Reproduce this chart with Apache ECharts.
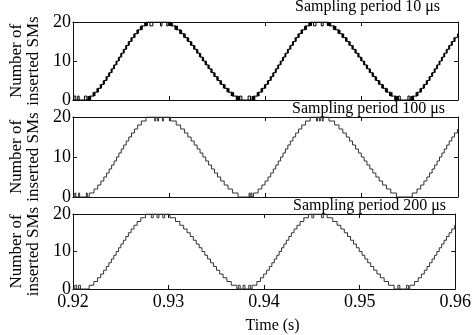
<!DOCTYPE html>
<html>
<head>
<meta charset="utf-8">
<script src="https://cdn.jsdelivr.net/npm/echarts@6/dist/echarts.min.js"></script>
<style>html,body{margin:0;padding:0;background:#fff}#c{width:474px;height:335px}</style>
</head>
<body>
<div id="c"></div>
<script>
// ---- data ----
const xTicks = [0.92, 0.93, 0.94, 0.95, 0.96];
const yTicks = [0, 10, 20];
const panelTitles = ['Sampling period 10 μs', 'Sampling period 100 μs', 'Sampling period 200 μs'];
const xName = 'Time (s)';
const yName = 'Number of\ninserted SMs';

// staircase: time (s) at which the number of inserted SMs changes, and the new value
const stepTimes = [
  0.920000, 0.921702, 0.922192, 0.922577, 0.922910, 0.923213, 0.923495, 0.923764, 0.924023, 0.924277, 0.924526,
  0.924774, 0.925023, 0.925277, 0.925536, 0.925805, 0.926087, 0.926390, 0.926723, 0.927108, 0.927598,
  0.930150, 0.930732, 0.931189, 0.931585, 0.931944, 0.932279, 0.932598, 0.932906, 0.933207, 0.933503,
  0.933797, 0.934093, 0.934394, 0.934702, 0.935021, 0.935356, 0.935715, 0.936111, 0.936568, 0.937150,
  0.938752, 0.939242, 0.939627, 0.939960, 0.940263, 0.940545, 0.940814, 0.941073, 0.941327, 0.941576,
  0.941824, 0.942073, 0.942327, 0.942586, 0.942855, 0.943137, 0.943440, 0.943773, 0.944158, 0.944648,
  0.946600, 0.947182, 0.947639, 0.948035, 0.948394, 0.948729, 0.949048, 0.949356, 0.949657, 0.949953,
  0.950247, 0.950543, 0.950844, 0.951152, 0.951471, 0.951806, 0.952165, 0.952561, 0.953018, 0.953600,
  0.955252, 0.955742, 0.956127, 0.956460, 0.956763, 0.957045, 0.957314, 0.957573, 0.957827, 0.958076,
  0.958324, 0.958573, 0.958827, 0.959086, 0.959355, 0.959637, 0.959940, 0.960000
];
const stepLevels = [
  0, 1, 2, 3, 4, 5, 6, 7, 8, 9, 10,
  11, 12, 13, 14, 15, 16, 17, 18, 19, 20,
  19, 18, 17, 16, 15, 14, 13, 12, 11, 10,
  9, 8, 7, 6, 5, 4, 3, 2, 1, 0,
  1, 2, 3, 4, 5, 6, 7, 8, 9, 10,
  11, 12, 13, 14, 15, 16, 17, 18, 19, 20,
  19, 18, 17, 16, 15, 14, 13, 12, 11, 10,
  9, 8, 7, 6, 5, 4, 3, 2, 1, 0,
  1, 2, 3, 4, 5, 6, 7, 8, 9, 10,
  11, 12, 13, 14, 15, 16, 17, 17
];
// short switching pulses on the flat parts: [start (s), end (s), base level, pulse level]
const pulses10 = [
  [0.92010, 0.92030, 0, 1], [0.92050, 0.92065, 0, 1], [0.92120, 0.92145, 0, 1],
  [0.92800, 0.92830, 20, 19], [0.92910, 0.92925, 20, 19], [0.92975, 0.92990, 20, 19],
  [0.93730, 0.93755, 0, 1], [0.93820, 0.93845, 0, 1],
  [0.94500, 0.94525, 20, 19], [0.94580, 0.94600, 20, 19],
  [0.95380, 0.95400, 0, 1], [0.95480, 0.95500, 0, 1]
];
const pulses100 = [
  [0.92020, 0.92030, 0, 1], [0.92060, 0.92070, 0, 1], [0.92140, 0.92150, 0, 1],
  [0.92850, 0.92860, 20, 19], [0.92880, 0.92890, 20, 19], [0.92930, 0.92940, 20, 19],
  [0.93830, 0.93840, 0, 1], [0.93850, 0.93860, 0, 1],
  [0.94530, 0.94540, 20, 19], [0.94560, 0.94570, 20, 19], [0.94590, 0.94600, 20, 19]
];
const pulses200 = [
  [0.92020, 0.92040, 0, 1], [0.92060, 0.92080, 0, 1],
  [0.92820, 0.92840, 20, 19], [0.92880, 0.92900, 20, 19], [0.92940, 0.92960, 20, 19],
  [0.93730, 0.93750, 0, 1], [0.93780, 0.93800, 0, 1], [0.93840, 0.93860, 0, 1],
  [0.94500, 0.94520, 20, 19], [0.94600, 0.94620, 20, 19],
  [0.95400, 0.95420, 0, 1], [0.95490, 0.95510, 0, 1]
];

// ---- build ----
const FONT = '"Liberation Serif","Times New Roman",serif';
const stepData = stepTimes.map((t, i) => [t, stepLevels[i]]);
const pulseSets = [pulses10, pulses100, pulses200];

// dither blocks for the 10 us case at every level change
const blockData = [];
for (let i = 1; i < stepTimes.length; i++) {
  if (stepLevels[i] === stepLevels[i - 1]) continue;
  const gPrev = stepTimes[i] - stepTimes[i - 1];
  const gNext = i + 1 < stepTimes.length ? stepTimes[i + 1] - stepTimes[i] : gPrev;
  blockData.push([stepTimes[i], stepLevels[i - 1], stepLevels[i], Math.min(gPrev, gNext, 0.0006)]);
}

const grids = [
  {left: 61, right: 16, top: 22, height: 78},
  {left: 61, right: 16, top: 117, height: 80},
  {left: 61, right: 16, top: 214, height: 77}
];
const axisLineStyle = {color: '#111', width: 1};
const xAxes = [], yAxes = [], series = [];
grids.forEach((g, i) => {
  const last = i === grids.length - 1;
  xAxes.push({
    gridIndex: i, type: 'value', min: xTicks[0], max: xTicks[xTicks.length - 1], interval: 0.01,
    position: 'bottom',
    axisLine: {show: true, onZero: false, lineStyle: axisLineStyle},
    axisTick: {show: true, inside: true, length: 4, lineStyle: axisLineStyle},
    axisLabel: {show: last, color: '#000', fontFamily: FONT, fontSize: 18, margin: 4,
      hideOverlap: false, formatter: v => v.toFixed(2)},
    splitLine: {show: false},
    name: last ? xName : '', nameLocation: 'middle', nameGap: 29,
    nameTextStyle: {color: '#000', fontFamily: FONT, fontSize: 16, padding: [0, 0, 0, 17]}
  });
  xAxes.push({
    gridIndex: i, type: 'value', min: xTicks[0], max: xTicks[xTicks.length - 1], interval: 0.01,
    position: 'top',
    axisLine: {show: true, onZero: false, lineStyle: axisLineStyle},
    axisTick: {show: true, inside: true, length: 4, lineStyle: axisLineStyle},
    axisLabel: {show: false}, splitLine: {show: false}
  });
  yAxes.push({
    gridIndex: i, type: 'value', min: yTicks[0], max: yTicks[yTicks.length - 1], interval: 10,
    position: 'left',
    axisLine: {show: true, onZero: false, lineStyle: axisLineStyle},
    axisTick: {show: true, inside: true, length: 4, lineStyle: axisLineStyle},
    axisLabel: {color: '#000', fontFamily: FONT, fontSize: 18, margin: 2},
    splitLine: {show: false},
    name: yName, nameLocation: 'middle', nameRotate: 90, nameGap: 24,
    nameTextStyle: {color: '#000', fontFamily: FONT, fontSize: 17, lineHeight: 17}
  });
  yAxes.push({
    gridIndex: i, type: 'value', min: yTicks[0], max: yTicks[yTicks.length - 1], interval: 10,
    position: 'right',
    axisLine: {show: true, onZero: false, lineStyle: axisLineStyle},
    axisTick: {show: true, inside: true, length: 4, lineStyle: axisLineStyle},
    axisLabel: {show: false}, splitLine: {show: false}
  });
  series.push({
    type: 'line', xAxisIndex: 2 * i, yAxisIndex: 2 * i, step: 'end',
    data: stepData, showSymbol: false, silent: true, animation: false,
    lineStyle: {color: i === 0 ? '#000' : '#333', width: 1}
  });
  series.push({
    type: 'custom', xAxisIndex: 2 * i, yAxisIndex: 2 * i, data: pulseSets[i],
    silent: true, animation: false, clip: true,
    renderItem: (params, api) => {
      const a = api.coord([api.value(0), api.value(2)]);
      const b = api.coord([api.value(0), api.value(3)]);
      const c = api.coord([api.value(1), api.value(3)]);
      const d = api.coord([api.value(1), api.value(2)]);
      return {type: 'polyline', shape: {points: [a, b, c, d]},
        style: {stroke: i === 0 ? '#000' : '#333', lineWidth: 1, fill: null}};
    }
  });
});
// blocks for 10 us
series.push({
  type: 'custom', xAxisIndex: 0, yAxisIndex: 0, data: blockData, silent: true, animation: false, clip: true,
  renderItem: (params, api) => {
    const t = api.value(0), hw = api.value(3) * 0.4;
    const lo = Math.min(api.value(1), api.value(2)), hi = Math.max(api.value(1), api.value(2));
    const p1 = api.coord([t - hw, hi]);
    const p2 = api.coord([t + hw, lo]);
    return {type: 'rect', shape: {x: p1[0], y: p1[1], width: p2[0] - p1[0], height: p2[1] - p1[1]},
      style: {fill: '#000'}};
  }
});

const titles = [
  {text: panelTitles[0], left: 295, top: -1},
  {text: panelTitles[1], left: 292, top: 101},
  {text: panelTitles[2], left: 293, top: 198}
].map(t => Object.assign(t, {padding: 0, textStyle: {color: '#000', fontFamily: FONT, fontSize: 16, fontWeight: 'normal'}}));

const chart = echarts.init(document.getElementById('c'), null, {renderer: 'canvas'});
chart.setOption({
  animation: false,
  backgroundColor: '#fff',
  title: titles,
  grid: grids,
  xAxis: xAxes,
  yAxis: yAxes,
  series: series
});
</script>
</body>
</html>
